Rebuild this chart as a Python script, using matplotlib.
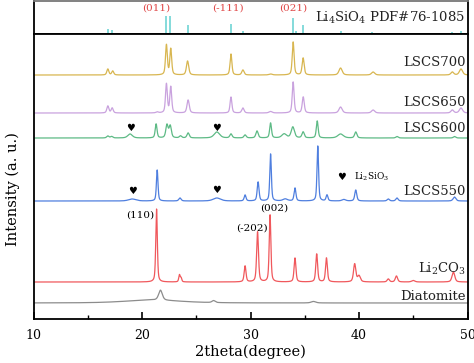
import numpy as np
import matplotlib
matplotlib.use('Agg')
import matplotlib.pyplot as plt

# peak lists: position (2theta), height (px), fwhm (deg)
ref_pos = [16.85, 17.2, 22.25, 22.6, 24.2, 28.2, 29.3, 33.9, 34.15, 34.85, 38.3, 41.2, 41.4, 48.6, 49.4]
ref_int = [5, 4, 18, 18, 9, 10, 3, 16, 3, 9, 3, 2, 1, 2, 3]
ref_hkl = ['(011)', '(-111)', '(021)']
ref_hkl_x = [21.35, 27.95, 33.95]

lscs700_pos = [16.85, 17.3, 22.25, 22.65, 24.2, 28.2, 29.3, 31.85, 33.93, 34.85, 38.3, 41.3, 48.6, 49.4]
lscs700_int = [6, 4, 30, 26, 14, 21, 5, 1, 33, 17, 7, 3, 3, 6]
lscs700_w = [0.22, 0.22, 0.2, 0.2, 0.25, 0.2, 0.25, 0.35, 0.2, 0.22, 0.35, 0.35, 0.3, 0.35]

lscs650_pos = [16.85, 17.25, 21.4, 22.25, 22.65, 24.25, 28.2, 29.3, 31.85, 33.93, 34.86, 38.3, 41.3, 48.6, 49.4]
lscs650_int = [7, 5, 1, 29, 26, 13, 16, 5, 1.5, 31, 16, 6, 3, 3, 5]
lscs650_w = [0.22, 0.22, 0.25, 0.2, 0.2, 0.25, 0.2, 0.25, 0.35, 0.2, 0.22, 0.35, 0.35, 0.3, 0.35]

lscs600_pos = [16.85, 17.2, 18.9, 21.3, 22.3, 22.6, 23.55, 24.25, 26.9, 28.2, 29.5, 30.6, 31.85, 33.1, 33.9, 34.85, 36.15, 38.3, 39.7, 43.5, 48.8]
lscs600_int = [2, 1.5, 4, 14, 13, 12, 2, 5, 6, 4, 3, 7, 15, 4, 11, 6, 17, 4, 6, 1.5, 1.5]
lscs600_w = [0.25, 0.25, 0.5, 0.2, 0.25, 0.25, 0.25, 0.25, 0.6, 0.25, 0.25, 0.25, 0.2, 0.5, 0.35, 0.25, 0.2, 0.6, 0.25, 0.25, 0.25]

lscs550_pos = [19.1, 21.4, 23.5, 26.9, 29.5, 30.7, 31.85, 33.2, 34.1, 36.2, 37.05, 38.6, 39.7, 42.7, 43.5, 48.8]
lscs550_int = [2, 31, 3, 3, 6, 19, 47, 2, 13, 55, 6, 1.5, 11, 2, 3, 4]
lscs550_w = [0.8, 0.17, 0.25, 0.8, 0.2, 0.2, 0.17, 0.5, 0.2, 0.17, 0.2, 0.4, 0.22, 0.25, 0.25, 0.3]

li2co3_pos = [21.34, 23.45, 23.6, 29.5, 30.65, 31.8, 34.1, 36.1, 37.0, 39.6, 40.0, 42.7, 43.45, 45.0, 48.7]
li2co3_int = [73, 7, 4, 16, 50, 67, 24, 28, 24, 18, 6, 3, 6, 1.5, 10]
li2co3_w = [0.17, 0.15, 0.15, 0.2, 0.2, 0.18, 0.2, 0.2, 0.2, 0.25, 0.3, 0.25, 0.25, 0.35, 0.3]

diat_pos = [21.0, 21.7, 26.6, 35.8]
diat_int = [3, 10, 2, 1.5]
diat_w = [6.0, 0.4, 0.35, 0.5]

names = ['LSCS700', 'LSCS650', 'LSCS600', 'LSCS550', 'Li$_2$CO$_3$', 'Diatomite']
colors = ['#d8b650', '#c9a2de', '#5dba85', '#4f7fdf', '#f0585c', '#8c8c8c']
offsets = [244, 206, 181, 118, 37, 16]
label_y = [257, 217, 191, 128, 50, 23]

plt.rcParams['font.family'] = ['DejaVu Serif']
plt.rcParams['mathtext.fontset'] = 'dejavuserif'

x = np.linspace(10, 50, 8001)


def pattern(pos, inten, width):
    # pseudo-Voigt peaks, half Lorentzian half Gaussian
    y = np.zeros_like(x)
    for p, h, w in zip(pos, inten, width):
        d = (x - p) / (w / 2)
        y += h * (0.5 / (1 + d ** 2) + 0.5 * np.exp(-np.log(2) * d ** 2))
    return y


curves = [pattern(lscs700_pos, lscs700_int, lscs700_w),
          pattern(lscs650_pos, lscs650_int, lscs650_w),
          pattern(lscs600_pos, lscs600_int, lscs600_w),
          pattern(lscs550_pos, lscs550_int, lscs550_w),
          pattern(li2co3_pos, li2co3_int, li2co3_w),
          pattern(diat_pos, diat_int, diat_w)]

fig = plt.figure(figsize=(4.74, 3.63), dpi=100)
ax_top = fig.add_axes([0.0707, 0.9063, 0.9156, 0.0909])
ax = fig.add_axes([0.0707, 0.1212, 0.9156, 0.7851])

# reference sticks
ax_top.vlines(ref_pos, 0, ref_int, color='#70d4d4', lw=1.2)
ax_top.set_xlim(10, 50)
ax_top.set_ylim(0, 33)
ax_top.set_xticks([])
ax_top.set_yticks([])
for s in ax_top.spines.values():
    s.set_linewidth(1.3)
ax_top.spines['top'].set_color('#777777')
for hx, t in zip(ref_hkl_x, ref_hkl):
    ax_top.text(hx, 25.5, t, color='#e04848', fontsize=7.5, ha='center', va='center')
ax_top.text(49.8, 16, 'Li$_4$SiO$_4$ PDF#76-1085', fontsize=9.5, ha='right', va='center', color='#222222')

for c, off, col, nm, ly in zip(curves, offsets, colors, names, label_y):
    ax.plot(x, c + off, color=col, lw=0.9)
    ax.text(49.8, ly, nm, fontsize=9.5, ha='right', va='center', color='#222222')

# Li2SiO3 markers
for hx, hy in [(18.94, 191), (26.9, 191), (19.1, 128), (26.9, 129), (38.4, 142)]:
    ax.text(hx, hy, '\u2665', fontsize=7, ha='center', va='center', family='DejaVu Sans')
ax.text(39.5, 142, 'Li$_2$SiO$_3$', fontsize=6.5, ha='left', va='center')

# Li2CO3 planes
ax.text(19.8, 104, '(110)', fontsize=7.5, ha='center', va='center')
ax.text(30.15, 91, '(-202)', fontsize=7.5, ha='center', va='center')
ax.text(32.2, 111, '(002)', fontsize=7.5, ha='center', va='center')

ax.set_xlim(10, 50)
ax.set_ylim(0, 285)
ax.set_yticks([])
ax.set_xticks([10, 20, 30, 40, 50])
ax.set_xticks([15, 25, 35, 45], minor=True)
ax.tick_params(axis='x', direction='in', length=5, width=1.2, labelsize=9, pad=7)
ax.tick_params(axis='x', which='minor', direction='in', length=3, width=1.0)
for s in ax.spines.values():
    s.set_linewidth(1.3)
ax.set_xlabel('2theta(degree)', fontsize=10.5, labelpad=2)
fig.text(0.027, 0.48, 'Intensity (a. u.)', rotation=90, fontsize=10.5, ha='center', va='center')

fig.savefig('out.png', dpi=100)
